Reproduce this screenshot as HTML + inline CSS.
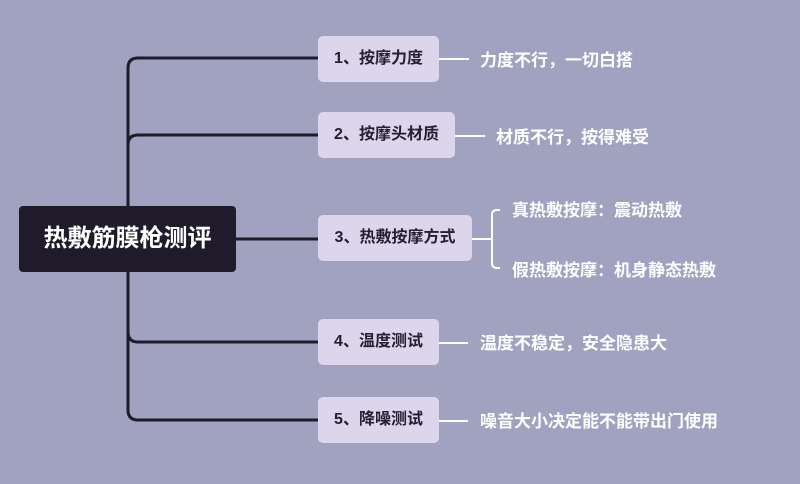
<!DOCTYPE html>
<html><head><meta charset="utf-8"><style>
body{margin:0;width:800px;height:484px;background:#a1a1c0;position:relative;overflow:hidden;font-family:"Liberation Sans","Noto Sans CJK SC",sans-serif;font-weight:bold}
.b{position:absolute;background:#ddd5ec;border-radius:5px;color:#232030;font-size:16px;line-height:46px;height:46px;text-align:center}
.t{position:absolute;color:#fff;font-size:17px;line-height:22px;white-space:nowrap}
svg{position:absolute;left:0;top:0}
</style></head><body>
<svg width="800" height="484">
<g fill="none" stroke="#1f1b2b" stroke-width="3">
<path d="M318 58 H138 Q128 58 128 68 V410 Q128 420 138 420 H318"/>
<path d="M318 135 H138 Q128 135 128 145"/>
<path d="M236 239 H318"/>
<path d="M318 342 H138 Q128 342 128 332"/>
</g>
<g fill="none" stroke="#fff" stroke-width="2">
<path d="M439 59 H469"/>
<path d="M455 136 H485"/>
<path d="M472 239 H492 M500 210 H497 Q492 210 492 215 V263 Q492 268 497 268 H500"/>
<path d="M439 343 H468"/>
<path d="M439 421 H468"/>
</g>
</svg>
<div style="position:absolute;left:19px;top:206px;width:217px;height:66px;background:#1f1b2b;border-radius:4px;color:#fff;font-size:24px;line-height:66px;text-align:center">热敷筋膜枪测评</div>
<div class="b" style="left:318px;top:36px;width:121px">1、按摩力度</div>
<div class="b" style="left:318px;top:112px;width:137px">2、按摩头材质</div>
<div class="b" style="left:318px;top:215px;width:154px">3、热敷按摩方式</div>
<div class="b" style="left:318px;top:319px;width:121px">4、温度测试</div>
<div class="b" style="left:318px;top:397px;width:121px">5、降噪测试</div>
<div class="t" style="left:480px;top:50px">力度不行，一切白搭</div>
<div class="t" style="left:496px;top:127px">材质不行，按得难受</div>
<div class="t" style="left:512px;top:200px">真热敷按摩：震动热敷</div>
<div class="t" style="left:512px;top:260px">假热敷按摩：机身静态热敷</div>
<div class="t" style="left:480px;top:333px">温度不稳定，安全隐患大</div>
<div class="t" style="left:480px;top:411px">噪音大小决定能不能带出门使用</div>
</body></html>
